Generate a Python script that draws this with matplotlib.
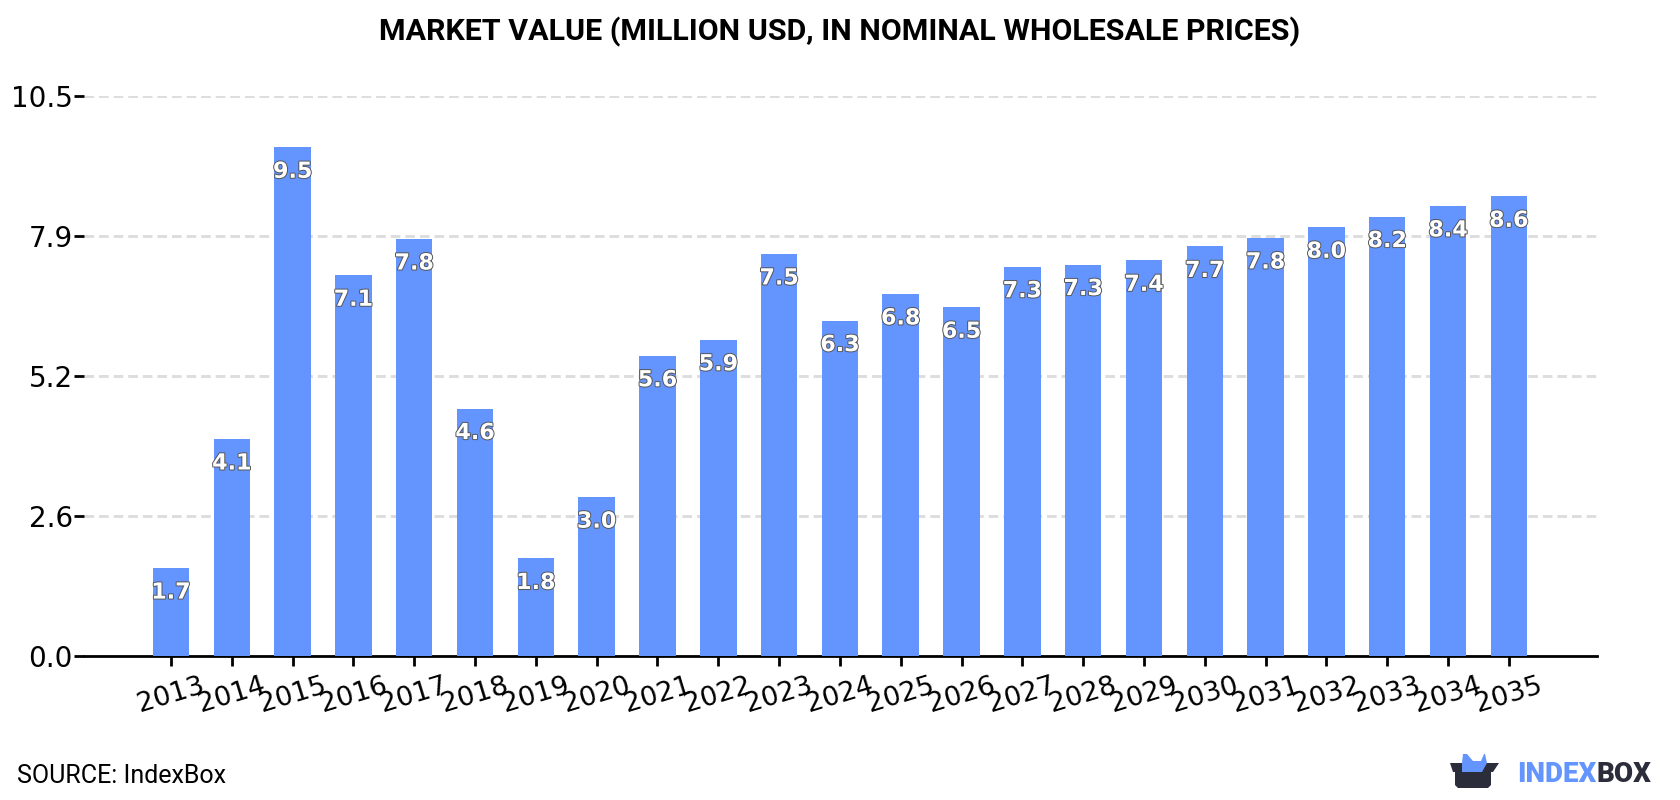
import matplotlib
matplotlib.use("Agg")
import matplotlib.pyplot as plt
import matplotlib.patheffects as pe
from matplotlib.patches import Polygon

years = [str(y) for y in range(2013, 2036)]
values = [1.65, 4.07, 9.54, 7.14, 7.82, 4.64, 1.83, 2.98, 5.63, 5.93, 7.54, 6.29,
          6.79, 6.54, 7.30, 7.34, 7.42, 7.68, 7.84, 8.04, 8.24, 8.44, 8.62]
labels = ["1.7", "4.1", "9.5", "7.1", "7.8", "4.6", "1.8", "3.0", "5.6", "5.9", "7.5", "6.3",
          "6.8", "6.5", "7.3", "7.3", "7.4", "7.7", "7.8", "8.0", "8.2", "8.4", "8.6"]
y_ticks = [0.0, 2.625, 5.25, 7.875, 10.5]
y_tick_labels = ["0.0", "2.6", "5.2", "7.9", "10.5"]

BLUE = "#6495ff"
DARK = "#2b2d3a"
W, H = 1680, 800

fig = plt.figure(figsize=(W / 100, H / 100), dpi=100, facecolor="white")
ax = fig.add_axes([84 / W, 1 - 656 / H, (1597 - 84) / W, (656 - 96) / H])

x = list(range(len(years)))
ax.bar(x, values, width=0.6, color=BLUE, zorder=3)
ax.set_xlim(-1.43, 23.45)
ax.set_ylim(0, 10.5)

ax.set_yticks(y_ticks, y_tick_labels, fontsize=20)
ax.set_xticks(x, years, fontsize=19.5, rotation=17, ha="center", rotation_mode="default")
ax.tick_params(axis="y", length=7, width=2, pad=1)
ax.tick_params(axis="x", length=7, width=2, pad=5)
ax.yaxis.grid(True, color="#dddddd", linewidth=2.1, linestyle=(0, (3.3, 1.7)), zorder=0)
ax.set_axisbelow(True)
for side in ("top", "left", "right"):
    ax.spines[side].set_visible(False)
ax.spines["bottom"].set_linewidth(2)

for xi, v, text in zip(x, values, labels):
    ax.annotate(text, (xi, v), xytext=(0, -17.7), textcoords="offset points",
                ha="center", va="center", fontsize=16, fontweight="bold", color="white",
                zorder=4,
                path_effects=[pe.withStroke(linewidth=1.4, foreground="#555555")])

fig.text(840 / W, 1 - 32 / H, "MARKET VALUE (MILLION USD, IN NOMINAL WHOLESALE PRICES)",
         ha="center", va="center", family="Roboto", fontweight="bold", fontsize=21.9, color="#000000")
fig.text(17 / W, 1 - 776 / H, "SOURCE: IndexBox", ha="left", va="center",
         family="Roboto", fontsize=18, color="#000000")

# Brand mark: open box with a blue crown, drawn in figure pixels
logo = fig.add_axes([0, 0, 1, 1], facecolor="none")
logo.set_xlim(0, W)
logo.set_ylim(H, 0)
logo.axis("off")
logo.add_patch(Polygon([(1462, 763), (1463, 754), (1467, 754), (1473, 761), (1481, 761), (1484, 754),
                        (1485, 754), (1487, 763), (1482, 772), (1462, 772)], closed=True, color=BLUE, lw=0))
logo.add_patch(Polygon([(1450, 763), (1499, 763), (1493, 772), (1491, 772), (1491, 785), (1488, 788),
                        (1458, 788), (1455, 785), (1455, 772), (1453, 772)], closed=True, color=DARK, lw=0))
logo.add_patch(Polygon([(1462, 763), (1487, 763), (1482, 772), (1462, 772)], closed=True, color=BLUE, lw=0))

wordmark = logo.text(1517, 775, "INDEX", ha="left", va="center", family="Roboto",
                     fontweight="black", fontsize=20, color=BLUE)
logo.annotate("BOX", xy=(1, 0.5), xycoords=wordmark, xytext=(0, 0), textcoords="offset points",
              ha="left", va="center", family="Roboto", fontweight="black", fontsize=20, color=DARK)

fig.savefig("out.png", dpi=100, facecolor="white")
